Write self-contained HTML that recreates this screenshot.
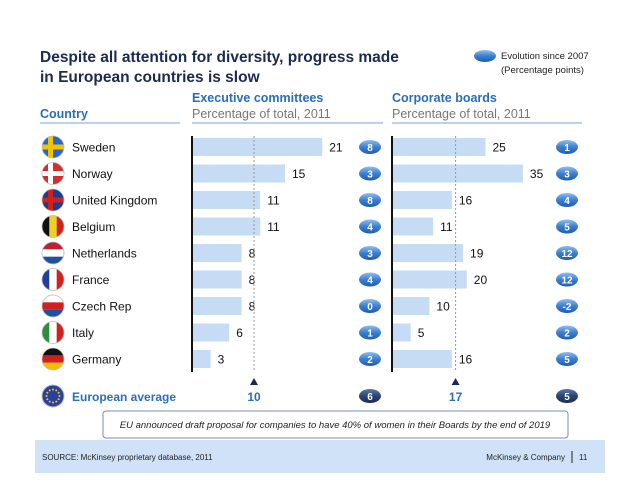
<!DOCTYPE html>
<html><head><meta charset="utf-8"><style>
body{margin:0;width:638px;height:493px;overflow:hidden;background:#fff;font-family:"Liberation Sans",sans-serif}
svg{display:block}
</style></head><body>
<svg id="c" width="638" height="493" xmlns="http://www.w3.org/2000/svg" font-family="Liberation Sans, sans-serif">
<defs>
<linearGradient id="bg" x1="0" y1="0" x2="0" y2="1"><stop offset="0" stop-color="#8fc0f0"/><stop offset="0.5" stop-color="#3d7fd0"/><stop offset="1" stop-color="#1f5db0"/></linearGradient>
<linearGradient id="dg" x1="0" y1="0" x2="0" y2="1"><stop offset="0" stop-color="#5d7aa8"/><stop offset="0.5" stop-color="#2b4574"/><stop offset="1" stop-color="#1b2f55"/></linearGradient>
</defs>
<text x="40" y="62" font-size="15.5" font-weight="bold" fill="#1a2a50">Despite all attention for diversity, progress made</text>
<text x="40" y="82" font-size="15.5" font-weight="bold" fill="#1a2a50">in European countries is slow</text>
<g>
<ellipse cx="485" cy="56" rx="11" ry="6" fill="url(#bg)"/>
<text x="501" y="59" font-size="9.5" fill="#222">Evolution since 2007</text>
<text x="501" y="73" font-size="9.5" fill="#222">(Percentage points)</text>
</g>
<text x="40" y="118" font-size="12.5" font-weight="bold" fill="#2a6ebb">Country</text>
<line x1="40" y1="123" x2="180" y2="123" stroke="#7aa6d6"/>
<text x="192" y="102" font-size="12.5" font-weight="bold" fill="#2a6ebb">Executive committees</text>
<text x="192" y="118" font-size="12.5" fill="#777">Percentage of total, 2011</text>
<line x1="192" y1="123" x2="383" y2="123" stroke="#7aa6d6"/>
<text x="392" y="102" font-size="12.5" font-weight="bold" fill="#2a6ebb">Corporate boards</text>
<text x="392" y="118" font-size="12.5" fill="#777">Percentage of total, 2011</text>
<line x1="392" y1="123" x2="582" y2="123" stroke="#7aa6d6"/>
<g id="rows"></g>
<rect x="103" y="411" width="465" height="27" rx="3" fill="#fff" stroke="#7a8ea8"/>
<text x="335" y="428" font-size="9.5" font-style="italic" text-anchor="middle" fill="#222">EU announced draft proposal for companies to have 40% of women in their Boards by the end of 2019</text>
<rect x="35" y="440" width="570" height="33" fill="#cfe2f8"/>
<text x="42" y="460" font-size="8" fill="#222">SOURCE: McKinsey proprietary database, 2011</text>
<text x="565" y="460" font-size="8" text-anchor="end" fill="#222">McKinsey &amp; Company</text>
<line x1="572" y1="451" x2="572" y2="463" stroke="#222"/>
<text x="579" y="460" font-size="8" fill="#222">11</text>
</svg>
<script>
const countries=["Sweden","Norway","United Kingdom","Belgium","Netherlands","France","Czech Rep","Italy","Germany"];
const execVals=[21,15,11,11,8,8,8,6,3];
const execEvol=[8,3,8,4,3,4,0,1,2];
const boardVals=[25,35,16,11,19,20,10,5,16];
const boardEvol=[1,3,4,5,12,12,-2,2,5];
const execAvg=10, boardAvg=17, execAvgEvol=6, boardAvgEvol=5;
const flagCols=[["#2a64c8","#f2c400"],["#d03030","#fff"],["#1e3c8c","#d02020"],["#111","#f0d020","#d02020"],["#c02030","#fff","#2050a0"],["#2040a0","#fff","#d02020"],["#fff","#d02020","#2050a0"],["#2a9040","#fff","#d02020"],["#111","#d02020","#f0c000"]];
const NS="http://www.w3.org/2000/svg";
const g=document.getElementById('rows');
function mk(t,a,p){const e=document.createElementNS(NS,t);for(const k in a)e.setAttribute(k,a[k]);(p||g).appendChild(e);return e;}
const xE=v=>192+v*6.2, xB=v=>392+v*3.74, yR=i=>147+i*26.5;
const ax1=mk('line',{x1:192,y1:136,x2:192,y2:372,stroke:'#111','stroke-width':2});


const ax2=mk('line',{x1:392,y1:136,x2:392,y2:372,stroke:'#111','stroke-width':2});


function badge(cx,cy,v,dark,name){
  const e=mk('ellipse',{cx:cx,cy:cy,rx:11,ry:7,fill:dark?'url(#dg)':'url(#bg)'});
  
  
  const t=mk('text',{x:cx,y:cy+4,'font-size':10,'font-weight':'bold','text-anchor':'middle',fill:'#fff'});t.textContent=v;
}
countries.forEach((c,i)=>{
  const y=yR(i);
  const cl=mk('clipPath',{id:'f'+i});mk('circle',{cx:53,cy:y,r:11},cl);
  const fc=flagCols[i];const fg=mk('g',{'clip-path':'url(#f'+i+')'});
  
  
  if(i<3){mk('rect',{x:42,y:y-11,width:22,height:22,fill:fc[0]},fg);mk('rect',{x:42,y:y-2.5,width:22,height:5,fill:fc[1]},fg);mk('rect',{x:48,y:y-11,width:5,height:22,fill:fc[1]},fg);}
  else if(i==3||i==5||i==7){fc.forEach((col,k)=>mk('rect',{x:42+k*7.34,y:y-11,width:7.4,height:22,fill:col},fg));}
  else{fc.forEach((col,k)=>mk('rect',{x:42,y:y-11+k*7.34,width:22,height:7.4,fill:col},fg));}
  mk('circle',{cx:53,cy:y,r:11,fill:'none',stroke:'#bbb','stroke-width':0.8});
  const lt=mk('text',{x:72,y:y+4.5,'font-size':12,fill:'#111'});lt.textContent=c;
  
  
  const b1=mk('rect',{x:193,y:y-9,width:xE(execVals[i])-193,height:18,fill:'#c6dcf5'});
  
  
  const t1=mk('text',{x:xE(execVals[i])+7,y:y+4.5,'font-size':12,fill:'#111'});t1.textContent=execVals[i];
  const b2=mk('rect',{x:393,y:y-9,width:xB(boardVals[i])-393,height:18,fill:'#c6dcf5'});
  
  
  const t2=mk('text',{x:xB(boardVals[i])+7,y:y+4.5,'font-size':12,fill:'#111'});t2.textContent=boardVals[i];
  badge(370,y,execEvol[i],false,'exec-evolution-badge');
  badge(567,y,boardEvol[i],false,'boards-evolution-badge');
});
[[xE(execAvg),execAvg,'exec'],[xB(boardAvg),boardAvg,'boards']].forEach(([x,v,n])=>{
  const l=mk('line',{x1:x,y1:136,x2:x,y2:372,stroke:'#999','stroke-dasharray':'2,2'});
  
  
  mk('polygon',{points:`${x-4},385 ${x+4},385 ${x},378`,fill:'#1a2a50'});
  const t=mk('text',{x:x,y:401,'font-size':12,'font-weight':'bold','text-anchor':'middle',fill:'#2a6ebb'});t.textContent=v;
  
  
});
const eu=mk('circle',{cx:53,cy:396,r:11,fill:'#2a3fa0',stroke:'#bbb'});


for(let k=0;k<12;k++){const a=k*Math.PI/6;mk('circle',{cx:53+6.5*Math.cos(a),cy:396+6.5*Math.sin(a),r:1,fill:'#f0d000'});}
const ea=mk('text',{x:72,y:401,'font-size':12,'font-weight':'bold',fill:'#2a6ebb'});ea.textContent='European average';


badge(370,396,execAvgEvol,true,'exec-average-badge');
badge(567,396,boardAvgEvol,true,'boards-average-badge');
</script>
</body></html>
